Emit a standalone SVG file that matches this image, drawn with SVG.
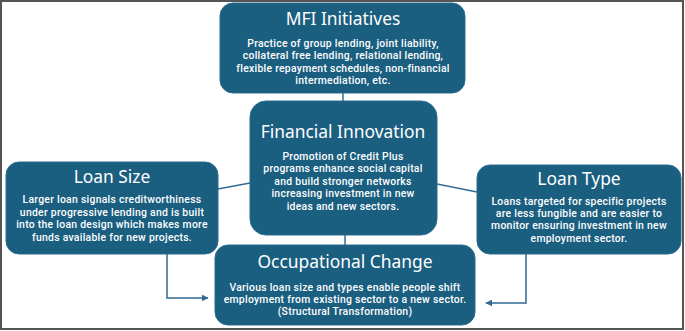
<svg xmlns="http://www.w3.org/2000/svg" width="685" height="331" viewBox="0 0 685 331">
<defs>
<style>
.box{fill:#1a5e80;stroke:#2a6d8f;stroke-width:1}
.title{font-family:"Noto Sans","Open Sans",sans-serif;font-size:17.4px;fill:#ffffff;text-anchor:middle}
.body{font-family:Roboto,"Liberation Sans",sans-serif;font-size:10.4px;font-weight:500;letter-spacing:0.28px;fill:#ffffff;text-anchor:middle}
.conn{fill:none;stroke:#2f6b94;stroke-width:1.5}
</style>
<marker id="ah" viewBox="0 0 10 10" refX="9" refY="5" markerWidth="7" markerHeight="7" markerUnits="userSpaceOnUse" orient="auto">
<path d="M0,0 L10,5 L0,10 z" fill="#2f6b94"/>
</marker>
</defs>
<rect x="0" y="0" width="685" height="331" fill="#ffffff"/>
<rect x="1" y="1" width="682" height="328" fill="#ffffff" stroke="#555555" stroke-width="2"/>
<g id="connectors">
<line class="conn" x1="343" y1="93" x2="343" y2="101"/>
<line class="conn" x1="345" y1="235" x2="345" y2="245"/>
<line class="conn" x1="218" y1="189" x2="250" y2="183"/>
<line class="conn" x1="437" y1="184" x2="477" y2="192"/>
<polyline class="conn" points="167,254 167,298 208,298" marker-end="url(#ah)"/>
<polyline class="conn" points="526,254 526,303 486,303" marker-end="url(#ah)"/>
</g>
<g id="mfi">
<rect class="box" x="220" y="3" width="245" height="90" rx="13"/>
<text class="title" x="343" y="25">MFI Initiatives</text>
<text class="body" x="343" y="47">Practice of group lending, joint liability,</text>
<text class="body" x="343" y="59">collateral free lending, relational lending,</text>
<text class="body" x="343" y="72">flexible repayment schedules, non-financial</text>
<text class="body" x="343" y="84">intermediation, etc.</text>
</g>
<g id="fin-innovation">
<rect class="box" x="250" y="101" width="187" height="134" rx="16"/>
<text class="title" x="343" y="138">Financial Innovation</text>
<text class="body" x="343" y="160">Promotion of Credit Plus</text>
<text class="body" x="343" y="172">programs enhance social capital</text>
<text class="body" x="343" y="185">and build stronger networks</text>
<text class="body" x="343" y="197">increasing investment in new</text>
<text class="body" x="343" y="210">ideas and new sectors.</text>
</g>
<g id="occupational">
<rect class="box" x="215" y="245" width="260" height="80" rx="13"/>
<text class="title" x="345" y="268">Occupational Change</text>
<text class="body" x="345" y="291">Various loan size and types enable people shift</text>
<text class="body" x="345" y="303">employment from existing sector to a new sector.</text>
<text class="body" x="345" y="315">(Structural Transformation)</text>
</g>
<g id="loan-size">
<rect class="box" x="6" y="162" width="212" height="92" rx="13"/>
<text class="title" x="112" y="183">Loan Size</text>
<text class="body" x="112" y="203">Larger loan signals creditworthiness</text>
<text class="body" x="112" y="216">under progressive lending and  is built</text>
<text class="body" x="112" y="228">into the loan design which makes more</text>
<text class="body" x="112" y="241">funds available for new projects.</text>
</g>
<g id="loan-type">
<rect class="box" x="477" y="165" width="204" height="89" rx="13"/>
<text class="title" x="579" y="185">Loan Type</text>
<text class="body" x="579" y="205">Loans targeted for specific projects</text>
<text class="body" x="579" y="217">are less fungible and are easier to</text>
<text class="body" x="579" y="229">monitor ensuring investment in new</text>
<text class="body" x="579" y="242">employment sector.</text>
</g>
</svg>
